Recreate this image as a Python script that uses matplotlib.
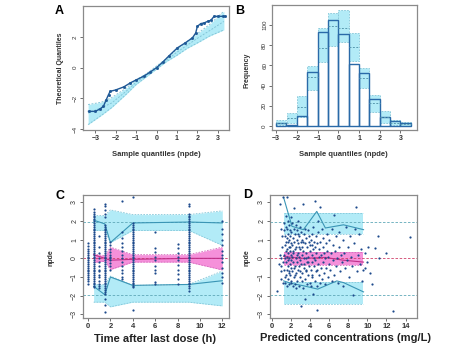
import matplotlib
matplotlib.use("Agg")
import matplotlib.pyplot as plt
import numpy as np

plt.rcParams['font.family'] = ['Liberation Sans', 'DejaVu Sans']

# ---- panel A: QQ plot ----
qq_x = [-3.33, -3.0, -2.76, -2.6, -2.46, -2.35, -2.27, -2.0, -1.6, -1.28, -1.0, -0.63, -0.3, 0.0,
        0.3, 0.6, 1.02, 1.4, 1.76, 1.92, 2.0, 2.17, 2.33, 2.5, 2.66, 2.82, 2.99, 3.24, 3.33]
qq_y = [-2.84, -2.84, -2.68, -2.51, -2.08, -1.75, -1.54, -1.45, -1.25, -0.99, -0.8, -0.56, -0.28, 0.0,
        0.35, 0.75, 1.28, 1.6, 1.93, 2.25, 2.68, 2.86, 2.9, 3.0, 3.07, 3.33, 3.33, 3.33, 3.33]
qq_band_x = [-3.35, -2.7, -2.2, -1.5, -1.0, -0.5, 0.0, 0.5, 1.0, 1.5, 2.0, 2.6, 3.3]
qq_band_lo = [-3.7, -3.1, -2.6, -1.75, -1.1, -0.6, -0.1, 0.4, 0.8, 1.25, 1.6, 2.05, 2.45]
qq_band_md = [-2.95, -2.6, -2.3, -1.55, -0.95, -0.5, 0.0, 0.5, 1.0, 1.45, 1.9, 2.4, 3.0]
qq_band_hi = [-2.4, -2.25, -1.95, -1.35, -0.8, -0.4, 0.1, 0.6, 1.2, 1.7, 2.2, 2.8, 3.66]

# ---- panel B: histogram ----
hist_edges = [-3.0, -2.5, -2.0, -1.5, -1.0, -0.5, 0.0, 0.5, 1.0, 1.5, 2.0, 2.5, 3.0, 3.5]
hist_obs = [3, 1, 10, 54, 93, 105, 91, 61, 53, 27, 9, 5, 3]
hist_lo = [0.7, 2.7, 9, 36, 63, 79, 83, 64, 38, 14, 3, 1, 0]
hist_md = [2.7, 7.7, 19, 49, 77, 99, 97, 78, 48, 23, 9, 3, 2]
hist_hi = [6, 13, 30, 59, 97, 112, 115, 92, 58, 31, 15, 6, 4]

# ---- panel C: npde vs time ----
c_times = [0, 0.5, 1, 1.5, 2, 3, 4, 6, 8, 9, 12]
c_npde = [
    [0.8, 0.65, 0.5, 0.4, 0.3, 0.2, 0.1, 0.0, -0.1, -0.2, -0.3, -0.4, -0.5, -0.6, -0.7, -0.8, -0.9, -1.0,
     -1.1, -1.2, -1.4],
    [2.65, 2.5, 2.4, 2.3, 2.2, 2.1, 2.0, 1.9, 1.8, 1.7, 1.6, 1.5, 1.4, 1.3, 1.2, 1.1, 1.0, 0.9, 0.8, 0.7,
     0.6, 0.5, 0.4, 0.3, 0.2, 0.1, 0.0, -0.1, -0.2, -0.3, -0.4, -0.5, -0.6, -0.7, -0.8, -0.9, -1.0, -1.1,
     -1.2, -1.3, -1.4, -1.5, -1.55],
    [1.2, 0.6, 0.3, 0.0, -0.2, -0.4, -0.6, -0.7, -0.9, -1.0, -1.2, -1.4, -1.5, -1.6],
    [2.9, 2.8, 2.6, 2.4, 2.2, 1.8, 1.7, 1.6, 1.5, 1.4, 1.3, 1.2, 1.1, 1.0, 0.9, 0.8, 0.7, 0.6, 0.5, 0.4,
     0.3, 0.2, 0.1, 0.0, -0.1, -0.2, -0.3, -0.4, -0.5, -0.6, -0.7, -0.8, -0.9, -1.0, -1.1, -1.2, -1.3,
     -1.4, -1.5, -1.6, -1.7, -1.8, -1.9, -2.2, -2.5, -2.9],
    [0.9, 0.7, 0.5, 0.35, 0.2, 0.1, 0.0, -0.1, -0.25, -0.4, -0.6],
    [3.1, 1.4, 1.1, 0.85, 0.6, 0.4, 0.2, 0.0, -0.2, -0.4, -0.6, -0.8, -1.0, -1.1],
    [3.3, 1.9, 1.8, 1.7, 1.6, 1.5, 1.4, 1.3, 1.2, 1.1, 1.0, 0.9, 0.8, 0.7, 0.6, 0.5, 0.4, 0.3, 0.2, 0.1,
     0.0, -0.1, -0.2, -0.3, -0.4, -0.5, -0.6, -0.7, -0.8, -0.9, -1.0, -1.1, -1.2, -1.3, -1.4, -1.5, -1.55,
     -2.75],
    [1.4, 0.55, 0.35, 0.1, -0.1, -0.4, -0.6, -0.8, -1.25, -1.4],
    [0.75, 0.55, 0.3, 0.1, -0.1, -0.35, -0.6, -0.85, -1.1, -1.4],
    [2.9, 2.8, 2.4, 2.3, 2.2, 2.1, 2.0, 1.9, 1.8, 1.7, 1.6, 1.5, 1.4, 1.3, 1.2, 1.1, 1.0, 0.9, 0.8, 0.7,
     0.6, 0.5, 0.4, 0.3, 0.2, 0.1, 0.0, -0.1, -0.2, -0.3, -0.4, -0.5, -0.6, -0.7, -0.8, -0.9, -1.0, -1.1,
     -1.2, -1.3, -1.4, -1.5, -1.6, -1.75],
    [2.0, 1.6, 1.3, 1.0, 0.7, 0.4, 0.2, 0.0, -0.2, -0.5, -0.8, -1.0, -1.3],
]
c_bt = [0.5, 1.5, 2, 4, 9, 12]
c_hi_up = [2.3, 2.3, 2.6, 2.35, 2.35, 2.55]
c_hi_lo = [1.5, 1.5, 0.85, 1.5, 1.5, 0.7]
c_hi_obs = [2.05, 1.85, 0.85, 1.9, 1.95, 1.9]
c_md_up = [0.22, 0.15, 0.6, 0.2, 0.2, 0.6]
c_md_lo = [-0.22, -0.15, -0.6, -0.2, -0.2, -0.62]
c_md_obs = [0.2, 0.0, -0.1, -0.05, 0.0, 0.0]
c_lo_up = [-1.4, -1.4, -0.95, -1.45, -1.4, -0.68]
c_lo_lo = [-2.35, -2.35, -2.6, -2.35, -2.35, -2.55]
c_lo_obs = [-1.5, -1.95, -1.0, -1.45, -1.4, -1.2]

# ---- panel D: npde vs predicted concentration ----
d_conc = [
    0.5, 0.7, 0.8, 0.85, 0.9, 0.95, 1.0, 1.05, 1.1, 1.15, 1.2, 1.2, 1.0, 0.9,
    1.25, 1.3, 1.3, 1.35, 1.4, 1.4, 1.45, 1.45, 1.5, 1.5, 1.55, 1.55, 1.6, 1.6, 1.6, 1.65, 1.65, 1.7,
    1.7, 1.7, 1.75, 1.75, 1.8, 1.8, 1.8, 1.85, 1.85, 1.9, 1.9, 1.95, 1.95, 1.95, 2.0, 2.0, 1.3, 1.35,
    1.5, 1.55, 1.6, 1.7, 1.75, 1.8, 1.9, 1.4, 1.45, 1.65, 1.85, 1.95,
    2.05, 2.05, 2.1, 2.1, 2.15, 2.15, 2.2, 2.2, 2.25, 2.25, 2.3, 2.3, 2.35, 2.35, 2.4, 2.4, 2.45, 2.45,
    2.5, 2.5, 2.55, 2.55, 2.6, 2.6, 2.65, 2.65, 2.7, 2.7, 2.75, 2.75, 2.8, 2.8, 2.85, 2.85, 2.9, 2.9,
    2.95, 2.95, 3.0, 3.0, 2.2, 2.4, 2.6, 2.8, 2.3, 2.5, 2.7, 2.9,
    3.05, 3.05, 3.1, 3.1, 3.15, 3.2, 3.2, 3.25, 3.3, 3.3, 3.35, 3.35, 3.4, 3.45, 3.45, 3.5, 3.5, 3.55,
    3.6, 3.6, 3.65, 3.7, 3.7, 3.75, 3.8, 3.8, 3.85, 3.9, 3.9, 3.95, 3.95, 4.0, 3.4, 3.6, 3.8, 3.25, 3.55,
    4.05, 4.1, 4.1, 4.15, 4.2, 4.2, 4.25, 4.3, 4.3, 4.35, 4.4, 4.4, 4.45, 4.5, 4.5, 4.55, 4.6, 4.6, 4.65,
    4.7, 4.7, 4.75, 4.8, 4.8, 4.85, 4.9, 4.9, 4.95, 5.0, 5.0, 4.25, 4.55, 4.75, 4.15,
    5.05, 5.1, 5.15, 5.2, 5.25, 5.3, 5.35, 5.4, 5.45, 5.5, 5.55, 5.6, 5.65, 5.7, 5.75, 5.8, 5.85, 5.9,
    5.95, 6.0,
    6.1, 6.2, 6.25, 6.3, 6.4, 6.45, 6.5, 6.55, 6.6, 6.7, 6.75, 6.8, 6.9, 7.0, 7.05, 7.1, 7.2, 7.3, 7.4,
    7.45,
    7.6, 7.7, 7.8, 7.9, 8.0, 8.1, 8.2, 8.3, 8.4, 8.5, 8.6, 8.7, 8.8, 8.9, 9.0, 9.1, 9.2, 9.3, 9.4, 9.5,
    9.7, 9.8, 10.0, 10.1, 10.3, 10.5, 10.8, 11.1, 11.2, 12.0, 12.7, 14.5,
]
d_npde = [
    -1.75, -0.3, 2.9, 0.2, 1.6, -1.1, -0.7, 0.6, 1.2, -0.2, -1.3, 3.3, 0.0, -0.4,
    1.9, 0.2, -0.6, 1.2, -1.3, 0.7, 2.3, -0.2, 0.9, -0.9, 1.6, 0.1, -1.5, 0.5, 3.3, -0.4, 1.3, 2.0,
    -1.1, 0.3, -0.7, 1.0, 0.0, 1.8, -1.4, 0.6, -0.3, 1.5, -0.9, 0.2, 2.2, -1.2, 0.8, -0.5, 1.5, -1.0,
    0.4, -0.6, 1.1, -0.1, 0.6, -0.8, 0.4, 0.0, 1.7, 0.9, 1.2, -0.1,
    1.4, -1.3, 0.1, 1.9, -0.7, 0.7, 1.1, -1.5, 0.3, -0.2, 2.7, -1.0, 0.9, 1.6, -0.4, 0.5, -1.4, 1.3,
    0.0, 1.8, -0.8, 0.6, -0.2, 1.0, -1.2, 1.5, 0.3, -0.6, 0.8, 2.0, -1.5, 0.1, 1.2, -0.4, 0.5, -1.0,
    1.7, -0.1, -2.55, 0.9, 0.4, -0.9, 0.2, 0.6, -0.5, -1.6, 1.3, -0.7,
    1.4, -0.3, -1.2, 0.6, 0.2, 1.0, -0.8, -1.6, 2.9, 0.4, -0.5, 1.3, 0.0, -1.1, 0.8, -2.2, 1.6, 0.3,
    -0.7, 1.1, -0.2, 0.6, -1.4, 1.5, 0.1, -0.9, 0.9, -0.4, 1.2, 0.4, -1.3, 0.7, -0.3, 0.0, -0.2, 0.9, -0.6,
    -0.6, 1.0, -1.5, 0.2, 1.3, -0.2, -1.0, 0.5, -1.9, 1.7, -0.4, 0.9, 0.0, 3.1, -1.2, 0.6, -0.7, 1.2, 0.3,
    -2.75, -1.5, 0.8, -0.3, 2.0, 1.4, -0.9, 0.1, 0.5, -1.3, 2.75, 0.7, -0.1, -0.6, -0.9,
    0.9, -0.5, 0.2, 1.6, -1.1, 0.6, -0.2, 1.1, -0.8, 0.3, -1.4, 0.0, 0.8, -0.5, 1.3, 0.4, -1.0, 0.1,
    -0.3, 1.0,
    -0.6, 0.3, 1.6, -1.2, 0.7, -0.1, 2.35, -0.9, 0.4, 1.2, -0.4, 0.0, -1.3, 0.6, 1.4, -0.7, 0.2, -0.2, 1.0,
    -1.5,
    0.3, -0.5, 1.7, -0.1, 0.6, -1.0, 1.2, 0.1, -0.4, -1.95, 0.8, 1.6, 2.75, -0.7, 0.2, 1.3, -0.3, 0.5,
    -1.2, -0.6,
    0.3, -0.5, -0.2, 0.6, -0.8, -1.4, 0.55, 1.2, 0.0, 0.3, -2.85, 1.15,
]
d_band_x = [1.25, 9.5]
d_hi_up = [2.45, 2.45]
d_hi_lo = [1.3, 1.3]
d_md_up = [0.35, 0.35]
d_md_lo = [-0.38, -0.38]
d_lo_up = [-1.25, -1.25]
d_lo_lo = [-2.45, -2.45]
d_hi_obs_x = [1.23, 1.75, 2.1, 3.3, 4.7, 5.6, 7.5, 9.6]
d_hi_obs_y = [3.26, 2.34, 1.72, 1.54, 2.52, 1.63, 1.8, 1.54]
d_md_obs_x = [1.23, 3.3, 5.6, 7.5, 9.6]
d_md_obs_y = [0.1, 0.0, 0.05, -0.1, -0.2]
d_lo_obs_x = [1.23, 2.1, 3.3, 4.8, 6.8, 7.5, 9.6]
d_lo_obs_y = [-1.21, -1.35, -1.47, -1.65, -1.21, -1.3, -1.8]

CYAN = "#b2ebf7"
CYAN_EDGE = "#84c6d8"
PINK = "#f590da"
PINK_EDGE = "#d46bbd"
DARK = "#1e5896"
PT = "#1d4a8c"
W, H = 474, 351

fig = plt.figure(figsize=(W / 100, H / 100), dpi=100)


def px_axes(l, t, r, b):
    ax = fig.add_axes([l / W, 1 - b / H, (r - l) / W, (b - t) / H])
    for s in ax.spines.values():
        s.set_color("#8a8a8a")
        s.set_linewidth(0.9)
    ax.tick_params(length=2, width=0.6, color="#555555", pad=1.5, labelsize=5)
    return ax


def style_ticks(ax, size):
    for lab in ax.get_xticklabels():
        lab.set_fontsize(size)
        lab.set_fontweight("bold")
        lab.set_color("#333333")
    for lab in ax.get_yticklabels():
        lab.set_fontsize(size - 0.5)
        lab.set_rotation(90)
        lab.set_va("center")
        lab.set_color("#333333")


# A
axA = px_axes(83, 6, 229, 130)
axA.fill_between(qq_band_x, qq_band_lo, qq_band_hi, color=CYAN, lw=0)
for arr in (qq_band_lo, qq_band_md, qq_band_hi):
    axA.plot(qq_band_x, arr, ls=(0, (2, 1.5)), color=CYAN_EDGE, lw=0.7)
axA.plot(qq_x, qq_y, color=DARK, lw=1.0, marker="s", ms=1.0)
axA.set_xlim(-3.6, 3.55)
axA.set_ylim(-4.05, 4.0)
axA.set_xticks([-3, -2, -1, 0, 1, 2, 3])
axA.set_yticks([-4, -2, 0, 2])
style_ticks(axA, 5)

# B
axB = px_axes(272, 5, 417, 130)
lefts = hist_edges[:-1]
axB.bar(lefts, np.subtract(hist_hi, hist_lo), bottom=hist_lo, width=0.5, align="edge",
        color=CYAN, edgecolor=CYAN_EDGE, lw=0.6, ls=(0, (2, 1.5)))
for x0, m in zip(lefts, hist_md):
    axB.plot([x0, x0 + 0.5], [m, m], ls=(0, (2, 1.5)), color="#5a9ab0", lw=0.7)
axB.bar(lefts, hist_obs, width=0.5, align="edge", fill=False, edgecolor="#2a6aa8", lw=1.0)
axB.set_xlim(-3.2, 3.8)
axB.set_ylim(-4, 120)
axB.set_xticks([-3, -2, -1, 0, 1, 2, 3])
axB.set_yticks([0, 20, 40, 60, 80, 100])
style_ticks(axB, 5)


def vpc_bands(ax, bx, bands, lines):
    for (lo, hi), col, ec in zip(bands, (CYAN, PINK, CYAN), (CYAN_EDGE, PINK_EDGE, CYAN_EDGE)):
        ax.fill_between(bx, lo, hi, color=col, lw=0)
        ax.plot(bx, lo, ls=(0, (2, 1.5)), color=ec, lw=0.6)
        ax.plot(bx, hi, ls=(0, (2, 1.5)), color=ec, lw=0.6)
    for yv, col in ((-1.96, "#5fa8b8"), (0, "#d0406a"), (1.96, "#5fa8b8")):
        ax.axhline(yv, ls=(0, (3, 2)), color=col, lw=0.6)
    for (lx, ly), col in zip(lines, ("#3a95b5", "#c0308a", "#3a95b5")):
        ax.plot(lx, ly, color=col, lw=0.8)


# C
axC = px_axes(83, 195, 229, 318)
vpc_bands(axC, c_bt, [(c_hi_lo, c_hi_up), (c_md_lo, c_md_up), (c_lo_lo, c_lo_up)],
          [(c_bt, c_hi_obs), (c_bt, c_md_obs), (c_bt, c_lo_obs)])
for t, ys in zip(c_times, c_npde):
    axC.scatter([t] * len(ys), ys, s=2.5, color=PT, lw=0, zorder=3)
axC.set_xlim(-0.45, 12.6)
axC.set_ylim(-3.2, 3.4)
axC.set_xticks([0, 2, 4, 6, 8, 10, 12])
axC.set_yticks([-3, -2, -1, 0, 1, 2, 3])
style_ticks(axC, 5.5)

# D
axD = px_axes(270, 195, 417, 318)
vpc_bands(axD, d_band_x, [(d_hi_lo, d_hi_up), (d_md_lo, d_md_up), (d_lo_lo, d_lo_up)],
          [(d_hi_obs_x, d_hi_obs_y), (d_md_obs_x, d_md_obs_y), (d_lo_obs_x, d_lo_obs_y)])
axD.scatter(d_conc, d_npde, s=2.5, color=PT, lw=0, zorder=3)
axD.set_xlim(-0.2, 15.2)
axD.set_ylim(-3.2, 3.4)
axD.set_xticks([0, 2, 4, 6, 8, 10, 12, 14])
axD.set_yticks([-3, -2, -1, 0, 1, 2, 3])
style_ticks(axD, 5.5)


def ftext(x, y, s, **kw):
    fig.text(x / W, 1 - y / H, s, ha="center", va="center", **kw)


ftext(60, 68, "Theoretical Quantiles", rotation=90, fontsize=5, fontweight="bold", color="#333333")
ftext(156, 155, "Sample quantiles (npde)", fontsize=5.5, fontweight="bold", color="#333333")
ftext(247, 70, "Frequency", rotation=90, fontsize=5, fontweight="bold", color="#333333")
ftext(343, 155, "Sample quantiles (npde)", fontsize=5.5, fontweight="bold", color="#333333")
ftext(51, 258, "npde", rotation=90, fontsize=5, fontweight="bold", color="#333333")
ftext(247, 258, "npde", rotation=90, fontsize=5, fontweight="bold", color="#333333")
ftext(155, 339, "Time after last dose (h)", fontsize=8, fontweight="bold", color="#222222")
ftext(345, 338, "Predicted concentrations (mg/L)", fontsize=8, fontweight="bold", color="#222222")
ftext(59, 11, "A", fontsize=9, fontweight="bold")
ftext(240, 11, "B", fontsize=9, fontweight="bold")
ftext(60, 196, "C", fontsize=9, fontweight="bold")
ftext(248, 195, "D", fontsize=9, fontweight="bold")

fig.savefig("out.png", dpi=100)
